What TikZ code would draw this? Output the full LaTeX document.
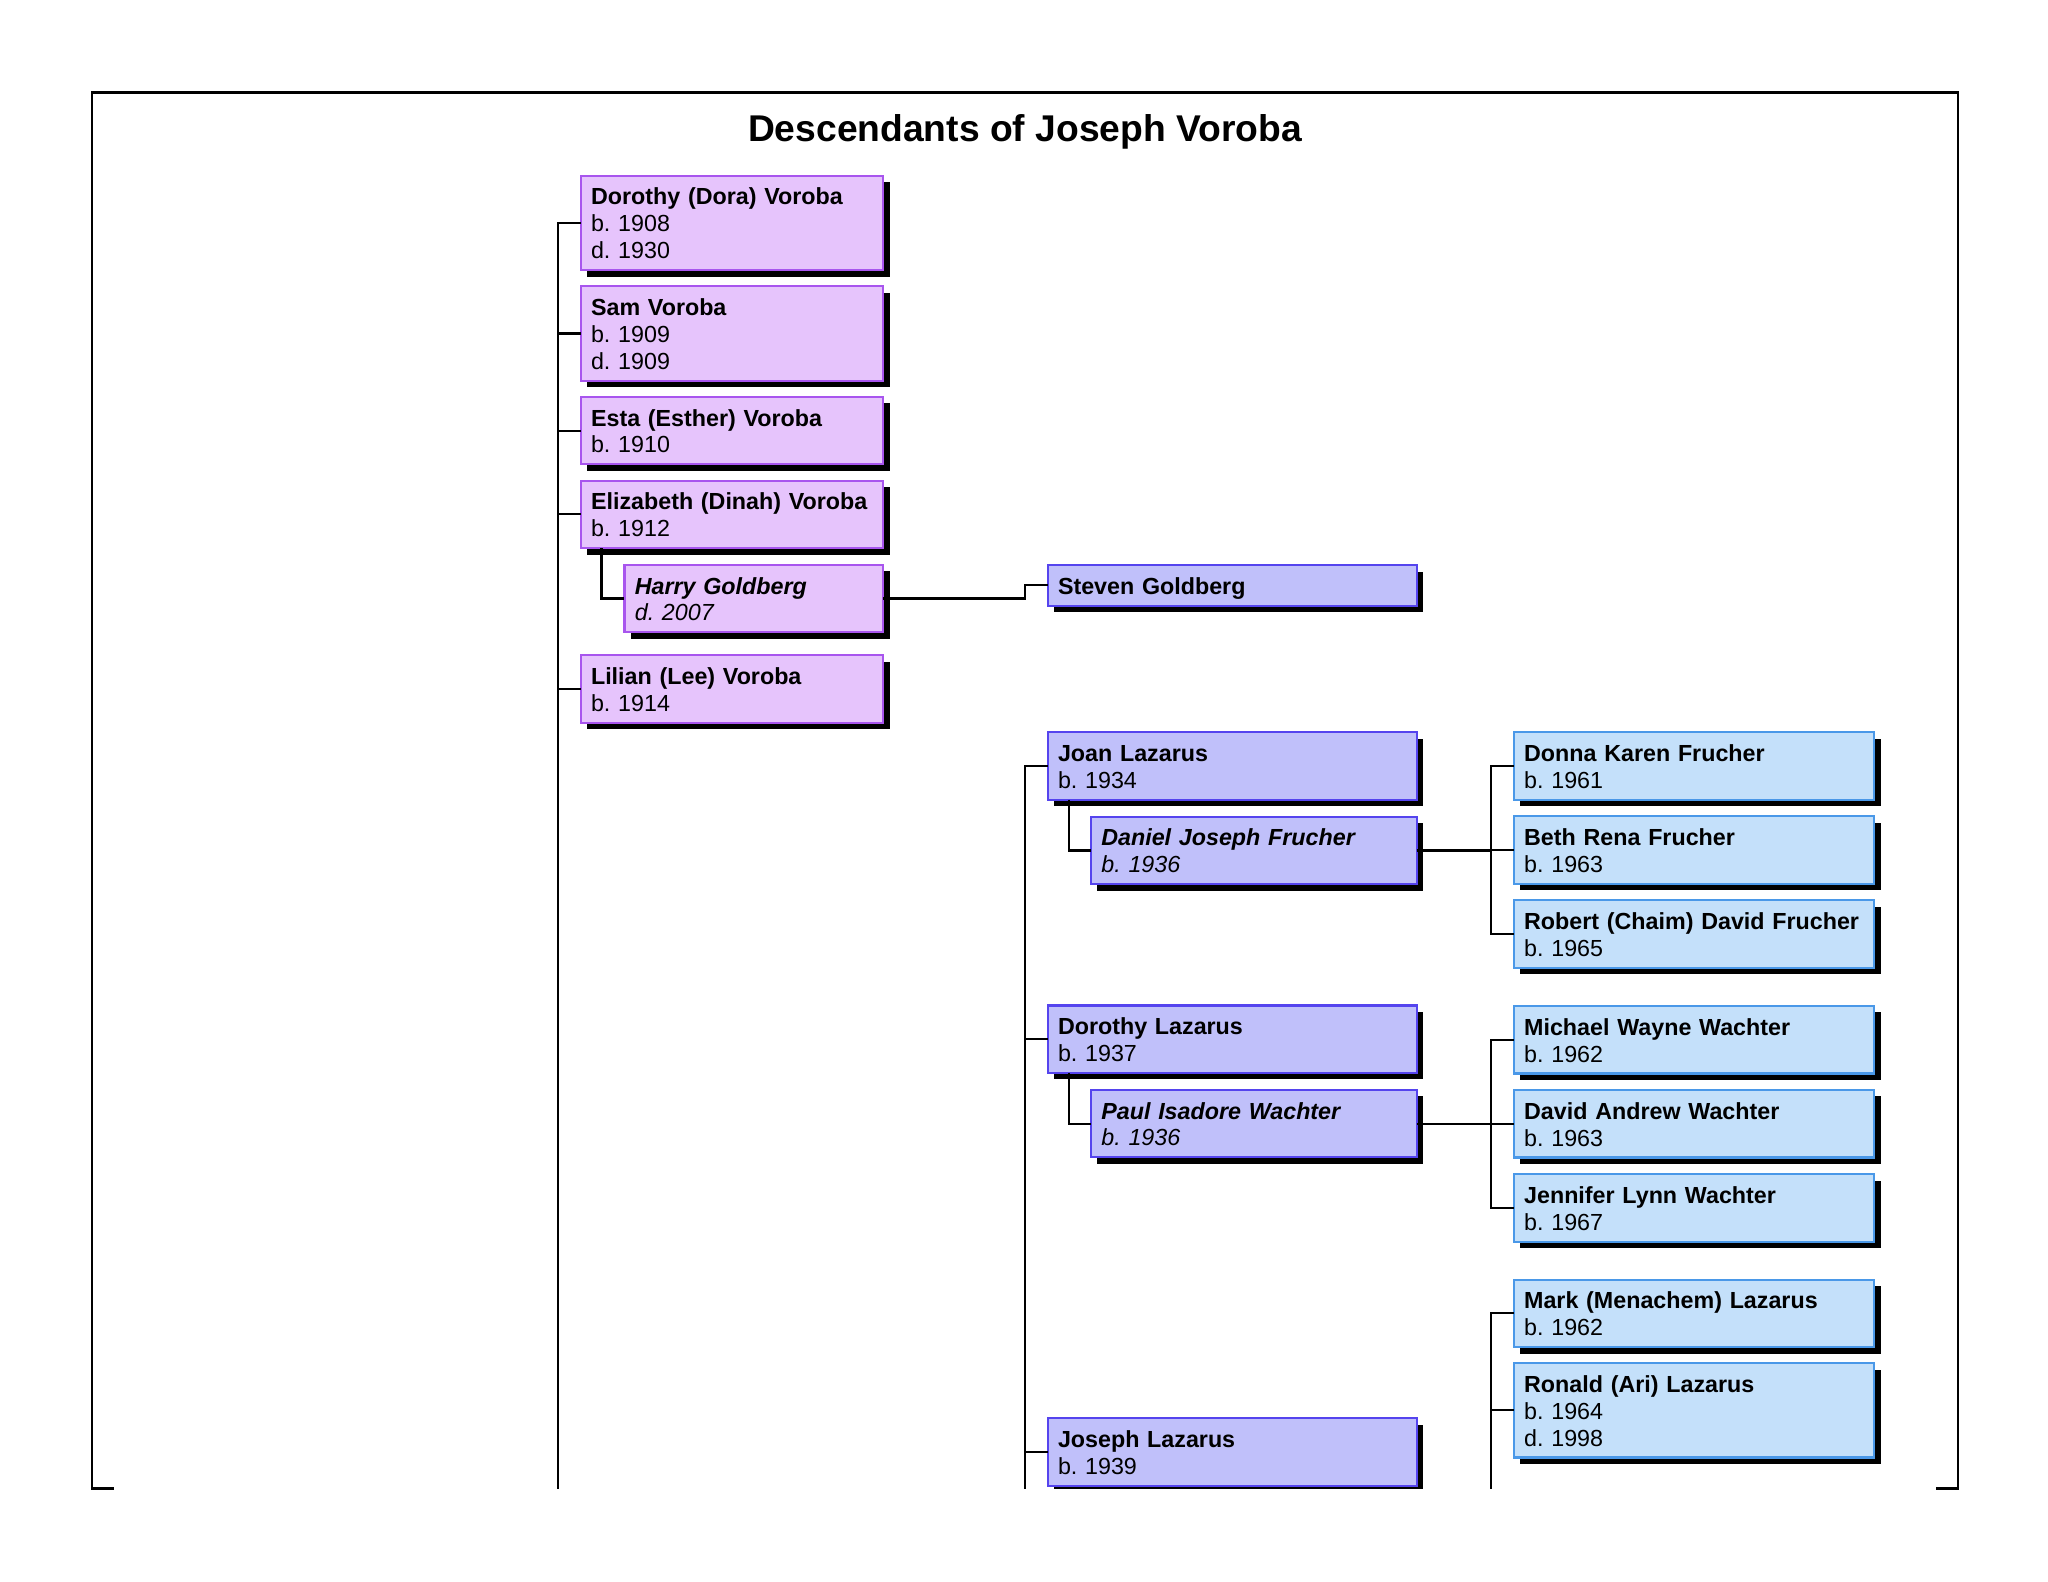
\documentclass[tikz,border=0pt]{standalone}
\usepackage{fontspec}
\setmainfont{Liberation Sans}
\usetikzlibrary{shadows}
\definecolor{gAfill}{HTML}{E6C4FC}
\definecolor{gAline}{HTML}{A855EE}
\definecolor{gBfill}{HTML}{C0C0FA}
\definecolor{gBline}{HTML}{5544EE}
\definecolor{gCfill}{HTML}{C4E0FA}
\definecolor{gCline}{HTML}{4A98E8}
\newcommand\nmA[1]{\rule{0pt}{11.3pt}\mbox{\bfseries #1}}
\newcommand\nmS[1]{\rule{0pt}{11.3pt}\mbox{\bfseries\itshape #1}}
\newcommand\lastrule{\rule[-4.4pt]{0pt}{4.4pt}}
\frenchspacing
\tikzset{
  pbox/.style={draw, line width=0.8pt, rectangle, anchor=north west,
    inner xsep=4pt, inner ysep=0pt, outer sep=0pt, align=left,
    font=\fontsize{9}{10.4}\selectfont\frenchspacing,
    drop shadow={opacity=1, fill=black, shadow xshift=2.5pt, shadow yshift=-2.5pt}},
  gA/.style={pbox, fill=gAfill, draw=gAline, text width=109.0pt},
  spA/.style={pbox, fill=gAfill, draw=gAline, text width=92.1pt},
  gB/.style={pbox, fill=gBfill, draw=gBline, text width=134.7pt},
  spB/.style={pbox, fill=gBfill, draw=gBline, text width=117.9pt},
  gC/.style={pbox, fill=gCfill, draw=gCline, text width=131.3pt},
  conn/.style={draw=black, line width=0.8pt},
}
\begin{document}
\frenchspacing
\begin{tikzpicture}[x=0.505102pt, y=-0.505102pt]
\useasboundingbox (0,0) rectangle (1568,1211);
\fill[white] (0,0) rectangle (1568,1211);

% frame
\draw[line width=1.1pt] (87,1139.3) -- (70.4,1139.3) -- (70.4,70.7) -- (1499.1,70.7) -- (1499.1,1139.3) -- (1482,1139.3);

\node[font=\fontsize{14.4}{17}\selectfont\bfseries, anchor=base, inner sep=0pt] (title) at (784.75,108.5) {Descendants of Joseph Voroba};

\begin{scope}
\clip (0,0) rectangle (1568,1139.5);

% generation 1
\node[gA] (dora) at (444.6,134.5) {\nmA{Dorothy (Dora) Voroba}\\b. 1908\\d. 1930\lastrule};
\node[gA] (sam) at (444.6,219.2) {\nmA{Sam Voroba}\\b. 1909\\d. 1909\lastrule};
\node[gA] (esta) at (444.6,303.8) {\nmA{Esta (Esther) Voroba}\\b. 1910\lastrule};
\node[gA] (eliz) at (444.6,368.0) {\nmA{Elizabeth (Dinah) Voroba}\\b. 1912\lastrule};
\node[spA] (harry) at (478.1,432.4) {\nmS{Harry Goldberg}\\\textit{d. 2007}\lastrule};
\node[gA] (lilian) at (444.6,501.8) {\nmA{Lilian (Lee) Voroba}\\b. 1914\lastrule};

% generation 2
\node[gB] (steven) at (802.1,432.6) {\nmA{Steven Goldberg}\lastrule};
\node[gB] (joan) at (802.1,560.7) {\nmA{Joan Lazarus}\\b. 1934\lastrule};
\node[spB] (daniel) at (835.3,625.3) {\nmS{Daniel Joseph Frucher}\\\textit{b. 1936}\lastrule};
\node[gB] (dlaz) at (802.1,769.8) {\nmA{Dorothy Lazarus}\\b. 1937\lastrule};
\node[spB] (paul) at (835.3,834.4) {\nmS{Paul Isadore Wachter}\\\textit{b. 1936}\lastrule};
\node[gB] (jlaz) at (802.1,1085.8) {\nmA{Joseph Lazarus}\\b. 1939\lastrule};

% generation 3
\node[gC] (donna) at (1159,560.7) {\nmA{Donna Karen Frucher}\\b. 1961\lastrule};
\node[gC] (beth) at (1159,625.0) {\nmA{Beth Rena Frucher}\\b. 1963\lastrule};
\node[gC] (robert) at (1159,689.1) {\nmA{Robert (Chaim) David Frucher}\\b. 1965\lastrule};
\node[gC] (michael) at (1159,770.2) {\nmA{Michael Wayne Wachter}\\b. 1962\lastrule};
\node[gC] (david) at (1159,834.5) {\nmA{David Andrew Wachter}\\b. 1963\lastrule};
\node[gC] (jennifer) at (1159,898.9) {\nmA{Jennifer Lynn Wachter}\\b. 1967\lastrule};
\node[gC] (mark) at (1159,979.7) {\nmA{Mark (Menachem) Lazarus}\\b. 1962\lastrule};
\node[gC] (ronald) at (1159,1043.6) {\nmA{Ronald (Ari) Lazarus}\\b. 1964\\d. 1998\lastrule};

% trunk coordinates
\coordinate (tA) at (427.5,1150);
\coordinate (tB) at (784.8,1150);
\coordinate (tC) at (1141.3,1150);

% generation 1 connectors
\draw[conn] (dora.west) -| (tA);
\draw[conn] (sam.west) -- (sam.west -| tA);
\draw[conn] (esta.west) -- (esta.west -| tA);
\draw[conn] (eliz.west) -- (eliz.west -| tA);
\draw[conn] (lilian.west) -- (lilian.west -| tA);
\draw[conn] (eliz.south west) ++(15.9,0) |- (harry.west);
\draw[conn] (harry.east) -- ++(108.2,0) |- (steven.west);

% generation 2 connectors
\draw[conn] (joan.west) -| (tB);
\draw[conn] (dlaz.west) -- (dlaz.west -| tB);
\draw[conn] (jlaz.west) -- (jlaz.west -| tB);
\draw[conn] (joan.south west) ++(16.1,0) |- (daniel.west);
\draw[conn] (dlaz.south west) ++(16.1,0) |- (paul.west);

% generation 3 connectors
\draw[conn] (daniel.east) -- (daniel.east -| tC);
\draw[conn] (donna.west) -| (robert.west -| tC) -- (robert.west);
\draw[conn] (beth.west) -- (beth.west -| tC);
\draw[conn] (paul.east) -- (paul.east -| tC);
\draw[conn] (michael.west) -| (jennifer.west -| tC) -- (jennifer.west);
\draw[conn] (david.west) -- (david.west -| tC);
\draw[conn] (mark.west) -| (tC);
\draw[conn] (ronald.west) -- (ronald.west -| tC);
\end{scope}
\end{tikzpicture}
\end{document}
